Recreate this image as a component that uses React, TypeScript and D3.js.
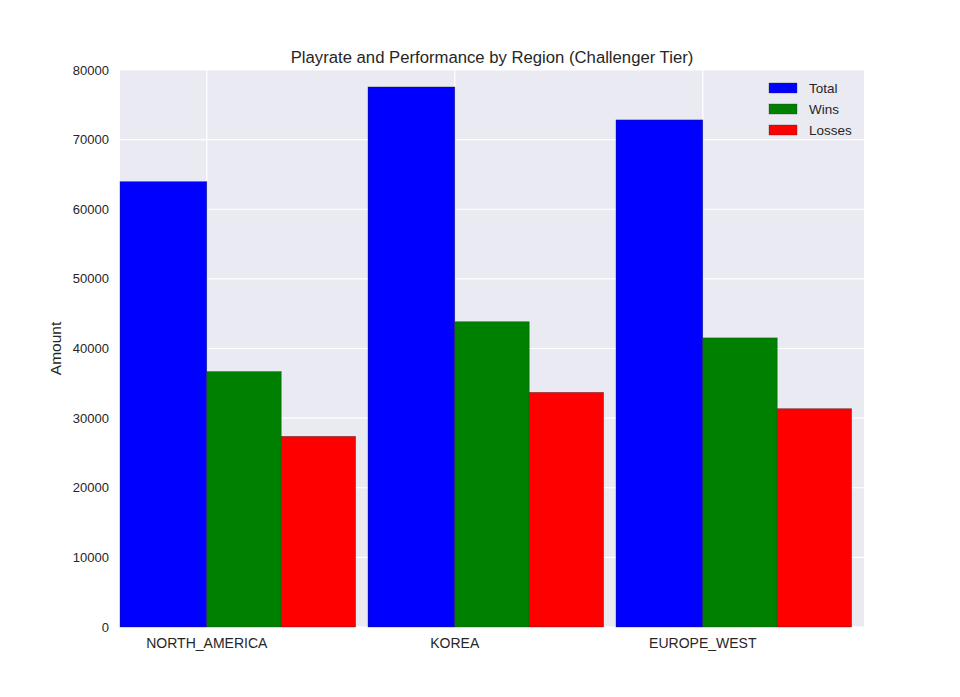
import React from "react";
import * as d3 from "d3";

const regions = ["NORTH_AMERICA", "KOREA", "EUROPE_WEST"];
const totals = [63960, 77560, 72830];
const wins = [36680, 43840, 41520];
const losses = [27380, 33700, 31350];
const yTicks = [0, 10000, 20000, 30000, 40000, 50000, 60000, 70000, 80000];
const seriesNames = ["Total", "Wins", "Losses"];
const seriesColors = ["#0000ff", "#008000", "#ff0000"];

const W = 960;
const H = 697;
const left = 120;
const right = 864;
const top = 70;
const bottom = 627;
const font = "'Liberation Sans', Arial, sans-serif";

export default function App() {
  const x = d3.scaleLinear().domain([0, 3]).range([left, right]);
  const y = d3.scaleLinear().domain([0, 80000]).range([bottom, top]);

  // series: offset and width in x units
  const series = [
    { values: totals, offset: 0, width: 0.35 },
    { values: wins, offset: 0.35, width: 0.3 },
    { values: losses, offset: 0.65, width: 0.3 },
  ];
  const tickPos = regions.map((_, i) => i + 0.35);

  return (
    <svg
      width={W}
      height={H}
      style={{ position: "absolute", left: 0, top: 0, background: "#fff" }}
      fontFamily={font}
    >
      <rect x={left} y={top} width={right - left} height={bottom - top} fill="#eaeaf2" />
      {yTicks.map((t) => (
        <line key={"gy" + t} x1={left} x2={right} y1={y(t)} y2={y(t)} stroke="#fff" strokeWidth={1.2} />
      ))}
      {tickPos.map((p, i) => (
        <line key={"gx" + i} x1={x(p)} x2={x(p)} y1={top} y2={bottom} stroke="#fff" strokeWidth={1.2} />
      ))}
      <g>
        {series.map((s, si) =>
          s.values.map((v, i) => (
            <rect
              key={si + "-" + i}
              x={x(i + s.offset)}
              y={y(v)}
              width={x(i + s.offset + s.width) - x(i + s.offset)}
              height={y(0) - y(v)}
              fill={seriesColors[si]}
              stroke="#222"
              strokeOpacity={0.6}
              strokeWidth={0.6}
            />
          ))
        )}
      </g>
      {yTicks.map((t) => (
        <text key={"ty" + t} x={109} y={y(t)} dy="0.35em" textAnchor="end" fontSize={13} fill="#262626">
          {t}
        </text>
      ))}
      {regions.map((r, i) => (
        <text key={"tx" + r} x={x(tickPos[i])} y={648} textAnchor="middle" fontSize={14} fill="#262626">
          {r}
        </text>
      ))}
      <text
        transform={`translate(61,${(top + bottom) / 2}) rotate(-90)`}
        textAnchor="middle"
        fontSize={15.5}
        fill="#262626"
      >
        Amount
      </text>
      <text x={(left + right) / 2} y={63} textAnchor="middle" fontSize={16.7} fill="#262626">
        Playrate and Performance by Region (Challenger Tier)
      </text>
      <g>
        {seriesNames.map((n, i) => (
          <g key={n} transform={`translate(769,${88 + i * 21})`}>
            <rect x={0} y={-5} width={28} height={10} fill={seriesColors[i]} stroke="#222" strokeOpacity={0.5} strokeWidth={0.6} />
            <text x={40} y={0} dy="0.35em" fontSize={13.5} fill="#262626">
              {n}
            </text>
          </g>
        ))}
      </g>
    </svg>
  );
}
